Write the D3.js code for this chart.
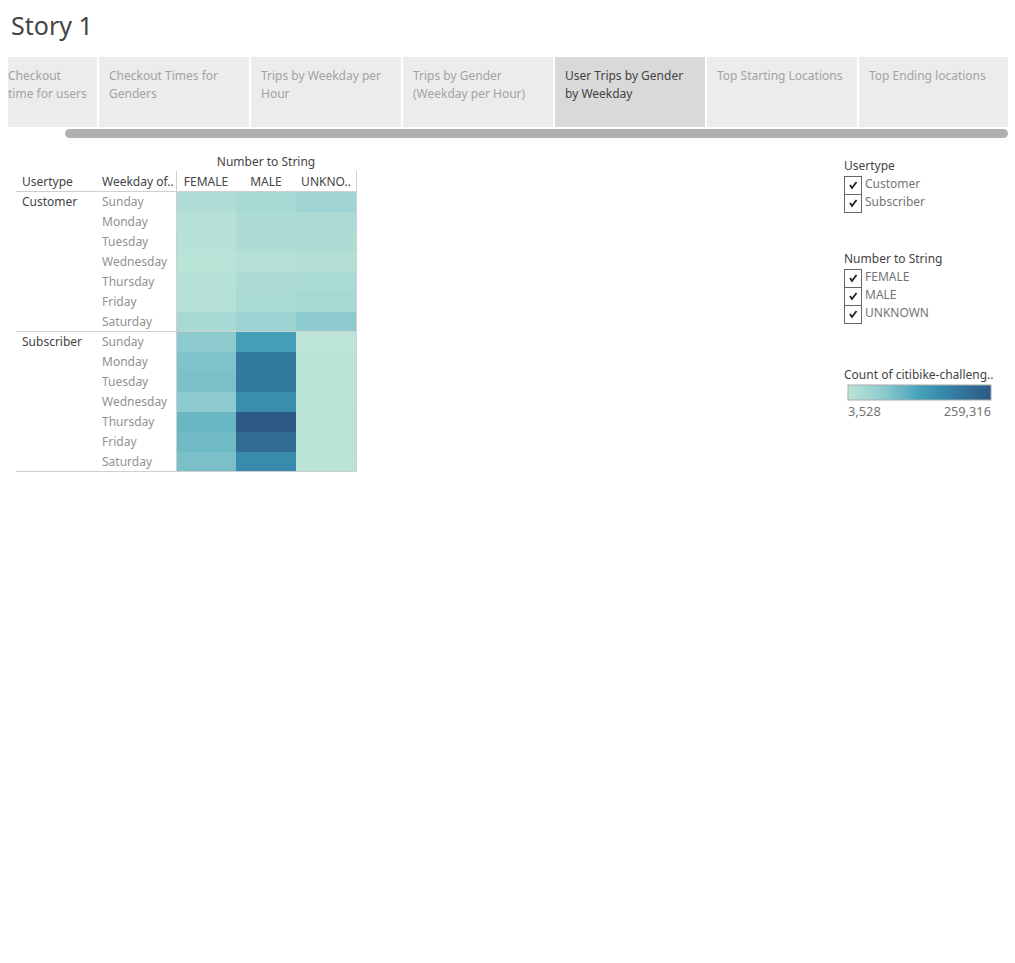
<!DOCTYPE html>
<html>
<head>
<meta charset="utf-8">
<title>Story 1</title>
<script src="https://d3js.org/d3.v7.min.js"></script>
<style>
  html, body { margin: 0; padding: 0; background: #fff; }
  svg { display: block; }
  text { font-family: "Noto Sans", sans-serif; }
</style>
</head>
<body>
<script>
var w = 1015, h = 963;

var tabs = [
  ["Checkout", "time for users"],
  ["Checkout Times for", "Genders"],
  ["Trips by Weekday per", "Hour"],
  ["Trips by Gender", "(Weekday per Hour)"],
  ["User Trips by Gender", "by Weekday"],
  ["Top Starting Locations"],
  ["Top Ending locations"]
];
var activeTab = 4;

var usertypes = ["Customer", "Subscriber"];
var weekdays = ["Sunday", "Monday", "Tuesday", "Wednesday", "Thursday", "Friday", "Saturday"];
var genders = ["FEMALE", "MALE", "UNKNOWN"];
var genderLabels = ["FEMALE", "MALE", "UNKNO.."];

// values
var customerFemale = [21000, 10000, 9500, 7000, 11000, 12000, 30000];
var customerMale = [31000, 23000, 22000, 14000, 26000, 27000, 45000];
var customerUnknown = [42000, 25000, 24000, 15000, 29000, 32000, 65000];
var subscriberFemale = [67000, 80000, 82000, 66000, 98000, 93000, 83000];
var subscriberMale = [135000, 198000, 200000, 164000, 259316, 226000, 168000];
var subscriberUnknown = [3528, 5200, 5400, 5000, 6100, 5800, 4300];
var colorRange = ["#bce4d8", "#8ccace", "#45a2b9", "#3587aa", "#2c5985"];
var minLabel = "3,528", maxLabel = "259,316";

var svg = d3.select("body").append("svg").attr("width", w).attr("height", h);

svg.append("text").attr("x", 11).attr("y", 35)
  .attr("font-size", 25).attr("fill", "#444").text("Story 1");

// story tabs
var tabEdges = [8, 99, 251, 403, 555, 707, 859];
var tabEnds = [97, 249, 401, 553, 705, 857, 1008];
tabs.forEach(function (t, i) {
  svg.append("rect").attr("x", tabEdges[i]).attr("y", 57)
    .attr("width", tabEnds[i] - tabEdges[i]).attr("height", 70)
    .attr("fill", i === activeTab ? "#d9d9d9" : "#ececec");
  t.forEach(function (line, j) {
    svg.append("text")
      .attr("x", i === 0 ? 8 : tabEdges[i] + 10).attr("y", 80 + j * 18)
      .attr("font-size", 12)
      .attr("fill", i === activeTab ? "#444" : "#a3a3a3")
      .text(line);
  });
});
svg.append("rect").attr("x", 65).attr("y", 129).attr("width", 943).attr("height", 9)
  .attr("rx", 4.5).attr("fill", "#b0b0b0");

// heatmap
var rows = [];
usertypes.forEach(function (u) {
  weekdays.forEach(function (d) { rows.push(u + "|" + d); });
});
var x = d3.scaleBand().domain(genders).range([176, 356]);
var y = d3.scaleBand().domain(rows).range([192, 472]);
var vmin = 3528, vmax = 259316;
var color = d3.scaleLinear()
  .domain([0, 0.25, 0.5, 0.67, 1].map(function (p) { return vmin + p * (vmax - vmin); }))
  .range(colorRange);

var series = [
  ["Customer", "FEMALE", customerFemale], ["Customer", "MALE", customerMale], ["Customer", "UNKNOWN", customerUnknown],
  ["Subscriber", "FEMALE", subscriberFemale], ["Subscriber", "MALE", subscriberMale], ["Subscriber", "UNKNOWN", subscriberUnknown]
];
var cells = [];
series.forEach(function (s) {
  s[2].forEach(function (v, i) {
    cells.push({ row: s[0] + "|" + weekdays[i], gender: s[1], value: v });
  });
});

svg.selectAll("rect.cell").data(cells).enter().append("rect")
  .attr("class", "cell")
  .attr("x", function (d) { return x(d.gender); })
  .attr("y", function (d) { return y(d.row); })
  .attr("width", x.bandwidth())
  .attr("height", y.bandwidth())
  .attr("shape-rendering", "crispEdges")
  .attr("fill", function (d) { return color(d.value); });

var dark = "#444", grey = "#919191", rule = "#cfcfcf";

svg.append("text").attr("x", 266).attr("y", 166).attr("text-anchor", "middle")
  .attr("font-size", 12).attr("fill", dark).text("Number to String");
svg.append("text").attr("x", 22).attr("y", 186).attr("font-size", 12).attr("fill", dark).text("Usertype");
svg.append("text").attr("x", 102).attr("y", 186).attr("font-size", 12).attr("fill", dark).text("Weekday of..");
genders.forEach(function (g, i) {
  svg.append("text").attr("x", x(g) + x.bandwidth() / 2).attr("y", 186)
    .attr("text-anchor", "middle").attr("font-size", 12).attr("fill", dark).text(genderLabels[i]);
});

rows.forEach(function (r) {
  var parts = r.split("|");
  svg.append("text").attr("x", 102).attr("y", y(r) + 14)
    .attr("font-size", 12).attr("fill", grey).text(parts[1]);
  if (parts[1] === weekdays[0]) {
    svg.append("text").attr("x", 22).attr("y", y(r) + 14)
      .attr("font-size", 12).attr("fill", dark).text(parts[0]);
  }
});

[191.5, 331.5, 471.5].forEach(function (ly) {
  svg.append("line").attr("x1", 16).attr("x2", 357).attr("y1", ly).attr("y2", ly)
    .attr("stroke", rule).attr("stroke-width", 1);
});
[176.5, 356.5].forEach(function (lx) {
  svg.append("line").attr("x1", lx).attr("x2", lx).attr("y1", 171).attr("y2", 472)
    .attr("stroke", rule).attr("stroke-width", 1);
});

// filter legends
function checkList(title, items, top) {
  svg.append("text").attr("x", 844).attr("y", top).attr("font-size", 12).attr("fill", dark).text(title);
  items.forEach(function (it, i) {
    var by = top + 6 + i * 18;
    svg.append("rect").attr("x", 844.5).attr("y", by + 0.5).attr("width", 17).attr("height", 18)
      .attr("fill", "#fff").attr("stroke", "#666").attr("stroke-width", 1);
    svg.append("path")
      .attr("d", "M" + 850 + "," + (by + 9) + "l2,3l4.5,-6")
      .attr("fill", "none").attr("stroke", "#222").attr("stroke-width", 1.8);
    svg.append("text").attr("x", 865).attr("y", by + 12)
      .attr("font-size", 12).attr("fill", "#757575").text(it);
  });
}
checkList("Usertype", usertypes, 170);
checkList("Number to String", genders, 263);

// colour legend
svg.append("text").attr("x", 844).attr("y", 379).attr("font-size", 12).attr("fill", dark)
  .text("Count of citibike-challeng..");
var defs = svg.append("defs");
var grad = defs.append("linearGradient").attr("id", "ramp");
[0, 0.25, 0.5, 0.67, 1].forEach(function (p, i) {
  grad.append("stop").attr("offset", p).attr("stop-color", colorRange[i]);
});
svg.append("rect").attr("x", 848).attr("y", 385).attr("width", 143).attr("height", 15)
  .attr("fill", "url(#ramp)").attr("stroke", "#aaa");
svg.append("text").attr("x", 848).attr("y", 416).attr("font-size", 12.8).attr("fill", "#757575").text(minLabel);
svg.append("text").attr("x", 991).attr("y", 416).attr("text-anchor", "end")
  .attr("font-size", 12.8).attr("fill", "#757575").text(maxLabel);
</script>
</body>
</html>
